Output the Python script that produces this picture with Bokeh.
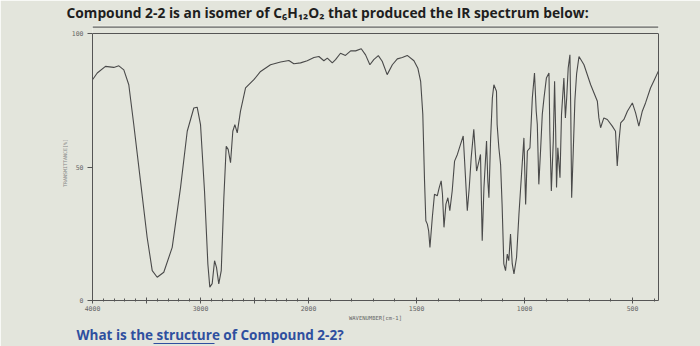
import numpy as np
from bokeh.plotting import figure
from bokeh.models import Range1d, FixedTicker, LinearAxis, Span, Title, ColumnDataSource
from bokeh.embed import file_html
from bokeh.resources import INLINE

# ---- data ----
wavenumber = [4000, 3956, 3880, 3803, 3756, 3710, 3664, 3618, 3556, 3494, 3447, 3401, 3340, 3262,
              3185, 3123, 3062, 3031, 3000, 2963, 2932, 2914, 2892, 2870, 2852, 2831, 2808, 2784,
              2762, 2744, 2722, 2701, 2682, 2660, 2630, 2583, 2506, 2444, 2352, 2259, 2182, 2136,
              2074, 2012, 1975, 1952, 1929, 1913, 1890, 1875, 1852, 1829, 1805, 1782, 1756, 1736,
              1716, 1698, 1677, 1659, 1636, 1612, 1589, 1566, 1543, 1512, 1494, 1481, 1471, 1463,
              1457, 1450, 1444, 1438, 1427, 1417, 1404, 1395, 1386, 1380, 1373, 1364, 1355, 1346,
              1335, 1324, 1311, 1299, 1284, 1278, 1265, 1256, 1247, 1235, 1222, 1211, 1204, 1196,
              1188, 1176, 1170, 1165, 1157, 1149, 1142, 1130, 1127, 1119, 1111, 1104, 1096, 1088,
              1080, 1073, 1065, 1057, 1049, 1037, 1026, 1011, 1003, 995, 987, 975, 964, 954, 946,
              941, 934, 926, 918, 910, 899, 887, 883, 876, 867, 861, 856, 852, 846, 836, 829, 818,
              811, 805, 798, 790, 786, 782, 775, 767, 759, 748, 725, 694, 663, 656, 648, 633, 617,
              594, 579, 571, 563, 555, 540, 524, 501, 486, 471, 455, 440, 417, 400, 380]
transmittance = [82.7, 85.2, 87.7, 87.3, 87.9, 86.4, 80.8, 65.9, 44.8, 23.6, 11.2, 8.7, 10.6, 19.9,
                 42.3, 63.4, 72.1, 72.4, 65.9, 41.0, 13.7, 5.0, 6.3, 14.9, 12.4, 6.2, 11.2, 38.5,
                 57.8, 56.6, 51.6, 63.4, 65.9, 62.8, 70.9, 79.6, 82.7, 85.8, 88.3, 89.3, 89.9, 88.7,
                 89.0, 89.8, 91.0, 91.4, 89.8, 90.8, 89.0, 90.2, 92.6, 91.8, 93.5, 93.5, 94.3, 92.0,
                 88.3, 90.2, 91.7, 89.6, 84.6, 88.3, 90.5, 91.0, 91.8, 89.8, 87.0, 82.1, 69.7, 44.8,
                 29.9, 28.6, 26.1, 19.9, 31.1, 39.8, 39.2, 42.3, 44.8, 39.8, 27.4, 36.1, 38.5, 33.6,
                 41.0, 52.2, 54.7, 57.8, 61.6, 52.9, 33.6, 42.3, 53.5, 64.1, 48.5, 52.2, 54.7, 22.4,
                 42.3, 59.7, 44.8, 38.5, 60.9, 75.9, 80.8, 78.4, 65.9, 57.2, 51.0, 36.0, 13.7, 11.2,
                 17.4, 14.9, 24.9, 13.7, 10.0, 16.2, 32.3, 51.0, 60.9, 36.0, 56.0, 57.2, 75.9, 85.2, 70.9,
                 65.9, 43.5, 56.0, 69.7, 75.9, 83.3, 85.2, 63.4, 41.0, 59.7, 82.1, 63.4, 42.3, 57.2, 46.0, 69.7, 83.3,
                 68.4, 75.9, 87.1, 92.0, 70.0, 38.5, 55.0, 75.0, 85.0, 91.4, 88.3, 80.8, 74.6, 68.4, 64.7, 68.4, 67.8,
                 65.3, 63.4, 50.4, 59.7, 66.5, 67.8, 70.9, 74.0, 70.3, 65.3, 70.9, 74.0, 79.6, 82.5, 86.0]

x_tick_values = [4000, 3500, 3000, 2500, 2000, 1500, 1000, 500]
x_tick_labels = ["4000", "", "3000", "", "2000", "1500", "1000", "500"]
y_tick_values = [0, 50, 100]
y_tick_labels = ["0", "50", "100"]

title_text = "Compound 2-2 is an isomer of C\u2086H\u2081\u2082O\u2082 that produced the IR spectrum below:"
question_text = "What is the structure of Compound 2-2?"


def to_u(w):
    """IR chart scale: 1000 cm-1 per unit above 2000, 500 cm-1 per unit below."""
    w = np.asarray(w, dtype=float)
    return np.where(w >= 2000, (4000 - w) / 1000.0, 2.0 + (2000 - w) / 500.0)


BG = "#e3e5dc"
INK = "#555555"
BLUE = "#2f4f9f"
FRAME_LEFT = 92
FRAME_W = 566
PX_PER_UNIT = FRAME_W / 5.24

src = ColumnDataSource(data=dict(u=to_u(wavenumber), t=transmittance))

p = figure(width=700, height=346, x_range=Range1d(0, 5.24), y_range=Range1d(0, 103),
           output_backend="svg", toolbar_location=None,
           min_border_left=FRAME_LEFT, min_border_right=700 - FRAME_LEFT - FRAME_W,
           min_border_top=25, min_border_bottom=46,
           background_fill_color=BG, border_fill_color=BG)
p.outline_line_color = None
p.xgrid.grid_line_color = None
p.ygrid.grid_line_color = None

# title
p.title.text = title_text
p.title.text_font = "Open Sans"
p.title.text_font_style = "bold"
p.title.text_font_size = "13.8px"
p.title.text_color = "#1e1e1e"
p.title.align = "left"
p.title.vertical_align = "top"
p.title.offset = -26
p.title.standoff = 4

# x axis (piecewise wavenumber scale)
xu = [float(v) for v in to_u(x_tick_values)]
minor = [float(v) for v in to_u(np.arange(4000, 399, -100))]
xa = p.xaxis[0]
xa.ticker = FixedTicker(ticks=xu, minor_ticks=minor)
xa.major_label_overrides = {u: lab for u, lab in zip(xu, x_tick_labels)}
xa.axis_line_color = INK
xa.major_tick_line_color = INK
xa.minor_tick_line_color = INK
xa.major_tick_in = 3
xa.major_tick_out = 3
xa.minor_tick_in = 2
xa.minor_tick_out = 1
xa.major_label_standoff = 2
xa.major_label_text_font = "DejaVu Sans Mono"
xa.major_label_text_font_size = "6.5px"
xa.major_label_text_color = "#666666"
xa.axis_label = "WAVENUMBER[cm-1]"
xa.axis_label_text_font = "DejaVu Sans Mono"
xa.axis_label_text_font_size = "5.5px"
xa.axis_label_text_font_style = "normal"
xa.axis_label_text_color = "#666666"
xa.axis_label_standoff = 1

# question text in the panel below the x axis
p.add_layout(Title(text=question_text, align="left", offset=76 - FRAME_LEFT,
                   text_font="Open Sans", text_font_style="bold", text_font_size="13.5px",
                   text_color=BLUE, vertical_align="bottom", standoff=0), "below")

# underline of "structure": a bare axis line just below the question text
ul = LinearAxis(ticker=FixedTicker(ticks=[]),
                bounds=((153 - FRAME_LEFT) / PX_PER_UNIT, (214 - FRAME_LEFT) / PX_PER_UNIT),
                axis_line_color=BLUE, axis_line_width=1.2,
                major_tick_line_color=None, minor_tick_line_color=None,
                major_tick_in=0, major_tick_out=0, major_label_standoff=0,
                major_label_text_font_size="0px")
p.add_layout(ul, "below")

ya = p.yaxis[0]
ya.ticker = FixedTicker(ticks=y_tick_values, minor_ticks=[])
ya.major_label_overrides = {v: lab for v, lab in zip(y_tick_values, y_tick_labels)}
ya.bounds = (0, 100)
ya.axis_line_color = INK
ya.major_tick_line_color = INK
ya.major_tick_in = 0
ya.major_tick_out = 5
ya.major_label_standoff = 4
ya.major_label_text_font = "DejaVu Sans Mono"
ya.major_label_text_font_size = "6.5px"
ya.major_label_text_color = "#666666"
ya.axis_label = "TRANSMITTANCE[%]"
ya.axis_label_text_font = "DejaVu Sans Mono"
ya.axis_label_text_font_size = "5px"
ya.axis_label_text_font_style = "normal"
ya.axis_label_text_color = "#888888"
ya.axis_label_standoff = 1

ra = LinearAxis(ticker=FixedTicker(ticks=[]), bounds=(0, 100), axis_line_color=INK,
                major_tick_line_color=None, minor_tick_line_color=None,
                major_label_text_font_size="0px")
p.add_layout(ra, "right")

p.add_layout(Span(location=100, dimension="width", line_color=INK, line_width=1))
p.add_layout(Span(location=102.4, dimension="width", line_color="#666666", line_width=1.3))

p.line("u", "t", source=src, line_color="#4a4a4a", line_width=1.1)

open("out.html", "w").write(file_html(p, INLINE))
